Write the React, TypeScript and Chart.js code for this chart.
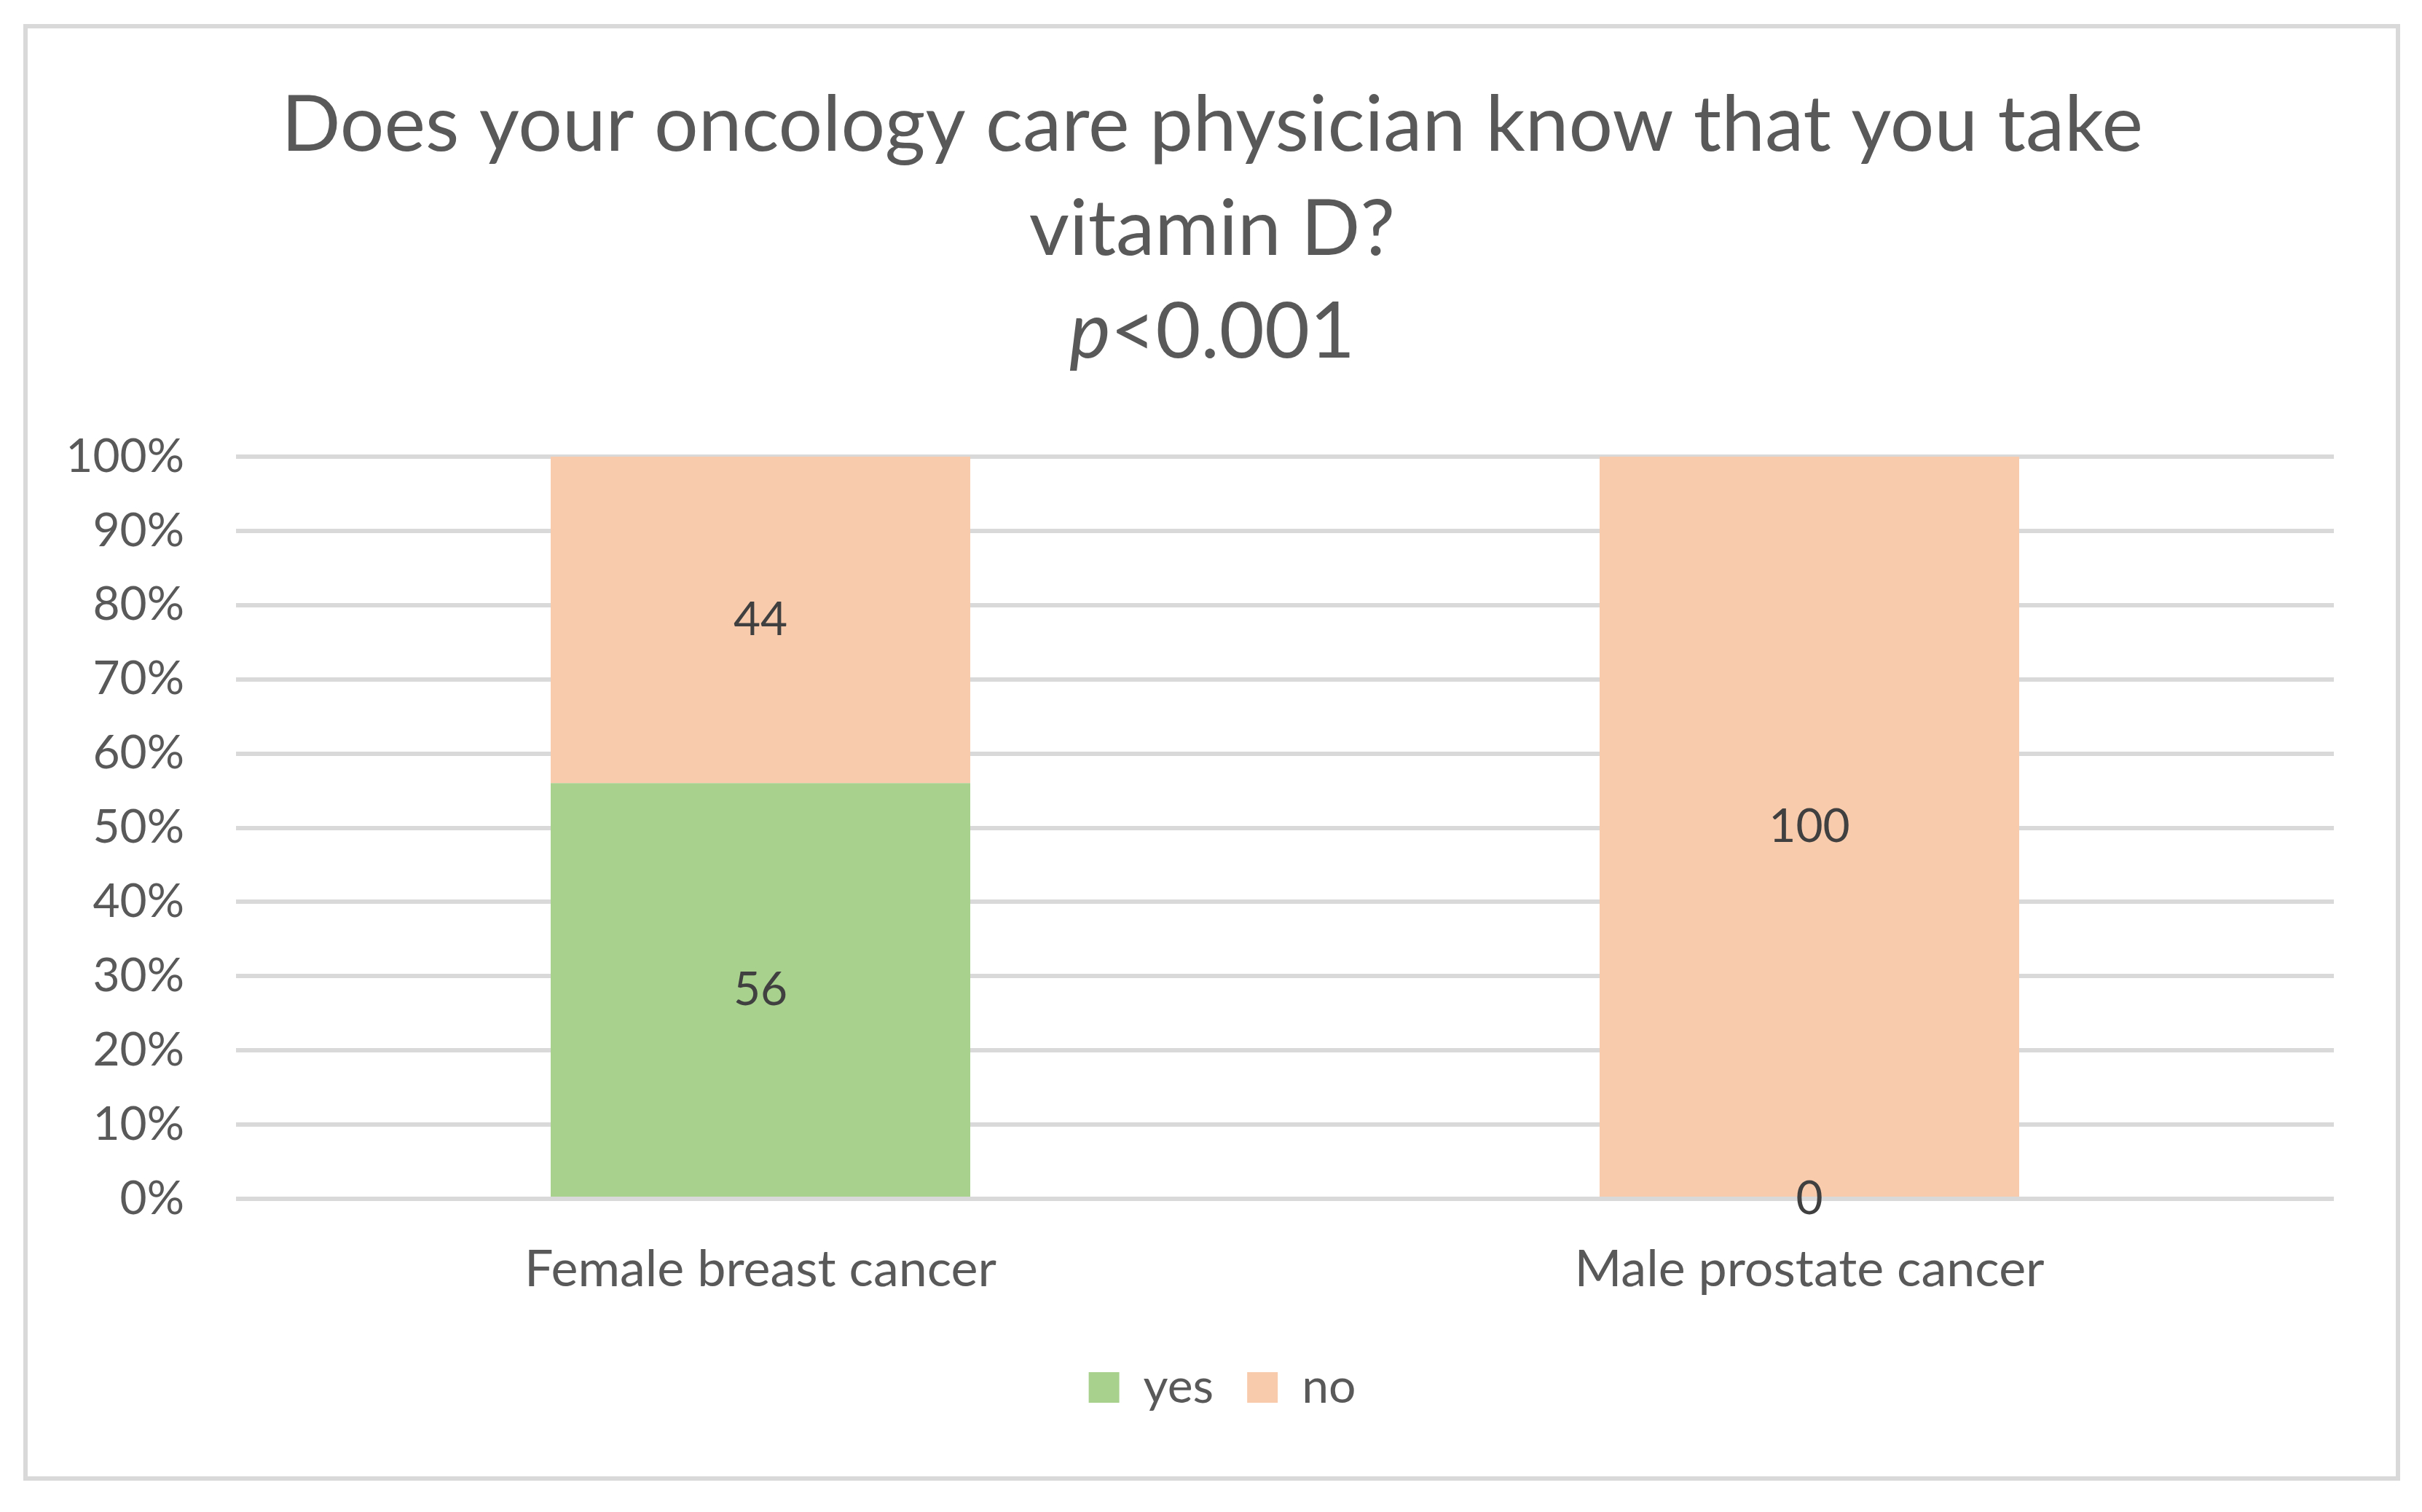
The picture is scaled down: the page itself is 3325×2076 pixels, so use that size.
import React, { useEffect, useRef } from "react";
import { Chart, registerables } from "chart.js";

Chart.register(...registerables);

const categories = ["Female breast cancer", "Male prostate cancer"];
const seriesNames = ["yes", "no"];
const yesValues = [56, 0];
const noValues = [44, 100];
const titleLines = ["Does your oncology care physician know that you take", "vitamin D?"];
const pItalic = "p";
const pRest = "<0.001";
const yMin = 0;
const yMax = 100;
const yStep = 10;

const FONT = "Lato";
const GREEN = "#a9d18e";
const PEACH = "#f8cbad";
const GRID = "#d9d9d9";
const TEXT = "#595959";
const LABEL = "#404040";

const framePlugin = {
  id: "frame",
  beforeDraw(chart: any) {
    const ctx = chart.ctx;
    ctx.save();
    ctx.fillStyle = "#ffffff";
    ctx.fillRect(0, 0, chart.width, chart.height);
    ctx.strokeStyle = GRID;
    ctx.lineWidth = 6;
    ctx.strokeRect(35, 36, 3257, 1994);
    ctx.restore();
  },
};

const legendShiftPlugin = {
  id: "legendShift",
  afterLayout(chart: any) {
    const lg = chart.legend;
    if (lg) {
      lg.left += 56;
      lg.right += 56;
    }
  },
};

const titlePlugin = {
  id: "customTitle",
  afterDraw(chart: any) {
    const ctx = chart.ctx;
    const cx = 1664;
    ctx.save();
    ctx.fillStyle = TEXT;
    ctx.textBaseline = "alphabetic";
    ctx.textAlign = "center";
    ctx.font = `107px ${FONT}`;
    ctx.fillText(titleLines[0], cx, 207);
    ctx.fillText(titleLines[1], cx, 350);
    ctx.textAlign = "left";
    const italicFont = `italic 107px ${FONT}`;
    const normalFont = `107px ${FONT}`;
    ctx.font = italicFont;
    const w1 = ctx.measureText(pItalic).width;
    ctx.font = normalFont;
    const w2 = ctx.measureText(pRest).width;
    const start = cx - (w1 + w2) / 2;
    ctx.font = italicFont;
    ctx.fillText(pItalic, start, 491);
    ctx.font = normalFont;
    ctx.fillText(pRest, start + w1, 491);
    ctx.restore();
  },
};

const dataLabelPlugin = {
  id: "dataLabels",
  afterDatasetsDraw(chart: any) {
    const ctx = chart.ctx;
    ctx.save();
    ctx.fillStyle = LABEL;
    ctx.font = `64px ${FONT}`;
    ctx.textAlign = "center";
    ctx.textBaseline = "middle";
    chart.data.datasets.forEach((ds: any, i: number) => {
      const meta = chart.getDatasetMeta(i);
      meta.data.forEach((el: any, j: number) => {
        const { x, y, base } = el.getProps(["x", "y", "base"], true);
        ctx.fillText(String(ds.data[j]), x, (y + base) / 2);
      });
    });
    ctx.restore();
  },
};

export default function App() {
  const ref = useRef<HTMLCanvasElement | null>(null);
  useEffect(() => {
    if (!ref.current) return;
    const chart = new Chart(ref.current, {
      type: "bar",
      data: {
        labels: categories,
        datasets: [
          { label: seriesNames[0], data: yesValues, backgroundColor: GREEN, borderWidth: 0 },
          { label: seriesNames[1], data: noValues, backgroundColor: PEACH, borderWidth: 0 },
        ],
      },
      options: {
        animation: false,
        responsive: true,
        maintainAspectRatio: false,
        devicePixelRatio: 1,
        layout: { padding: { left: 40, right: 121, top: 627, bottom: 128 } },
        datasets: { bar: { barPercentage: 0.4, categoryPercentage: 1 } },
        scales: {
          x: {
            stacked: true,
            grid: { display: false, drawTicks: false },
            border: { display: false },
            ticks: { color: TEXT, font: { family: FONT, size: 70 }, padding: 55 },
            afterFit(scale: any) {
              scale.height = 180;
            },
          },
          y: {
            stacked: true,
            min: yMin,
            max: yMax,
            grid: { color: GRID, lineWidth: 6, drawTicks: false },
            border: { display: false },
            ticks: {
              stepSize: yStep,
              color: TEXT,
              font: { family: FONT, size: 64 },
              padding: 71,
              callback: (v: any) => v + "%",
            },
            afterFit(scale: any) {
              scale.width = 284;
            },
          },
        },
        plugins: {
          title: { display: false },
          tooltip: { enabled: false },
          legend: {
            position: "bottom",
            labels: {
              color: TEXT,
              font: { family: FONT, size: 66 },
              boxWidth: 42,
              boxHeight: 42,
              padding: 46,
            },
          },
        },
      },
      plugins: [framePlugin, legendShiftPlugin, titlePlugin, dataLabelPlugin],
    });
    return () => chart.destroy();
  }, []);
  return (
    <div style={{ position: "fixed", left: 0, top: 0, width: "100vw", height: "100vh", background: "#fff" }}>
      <canvas ref={ref} />
    </div>
  );
}
